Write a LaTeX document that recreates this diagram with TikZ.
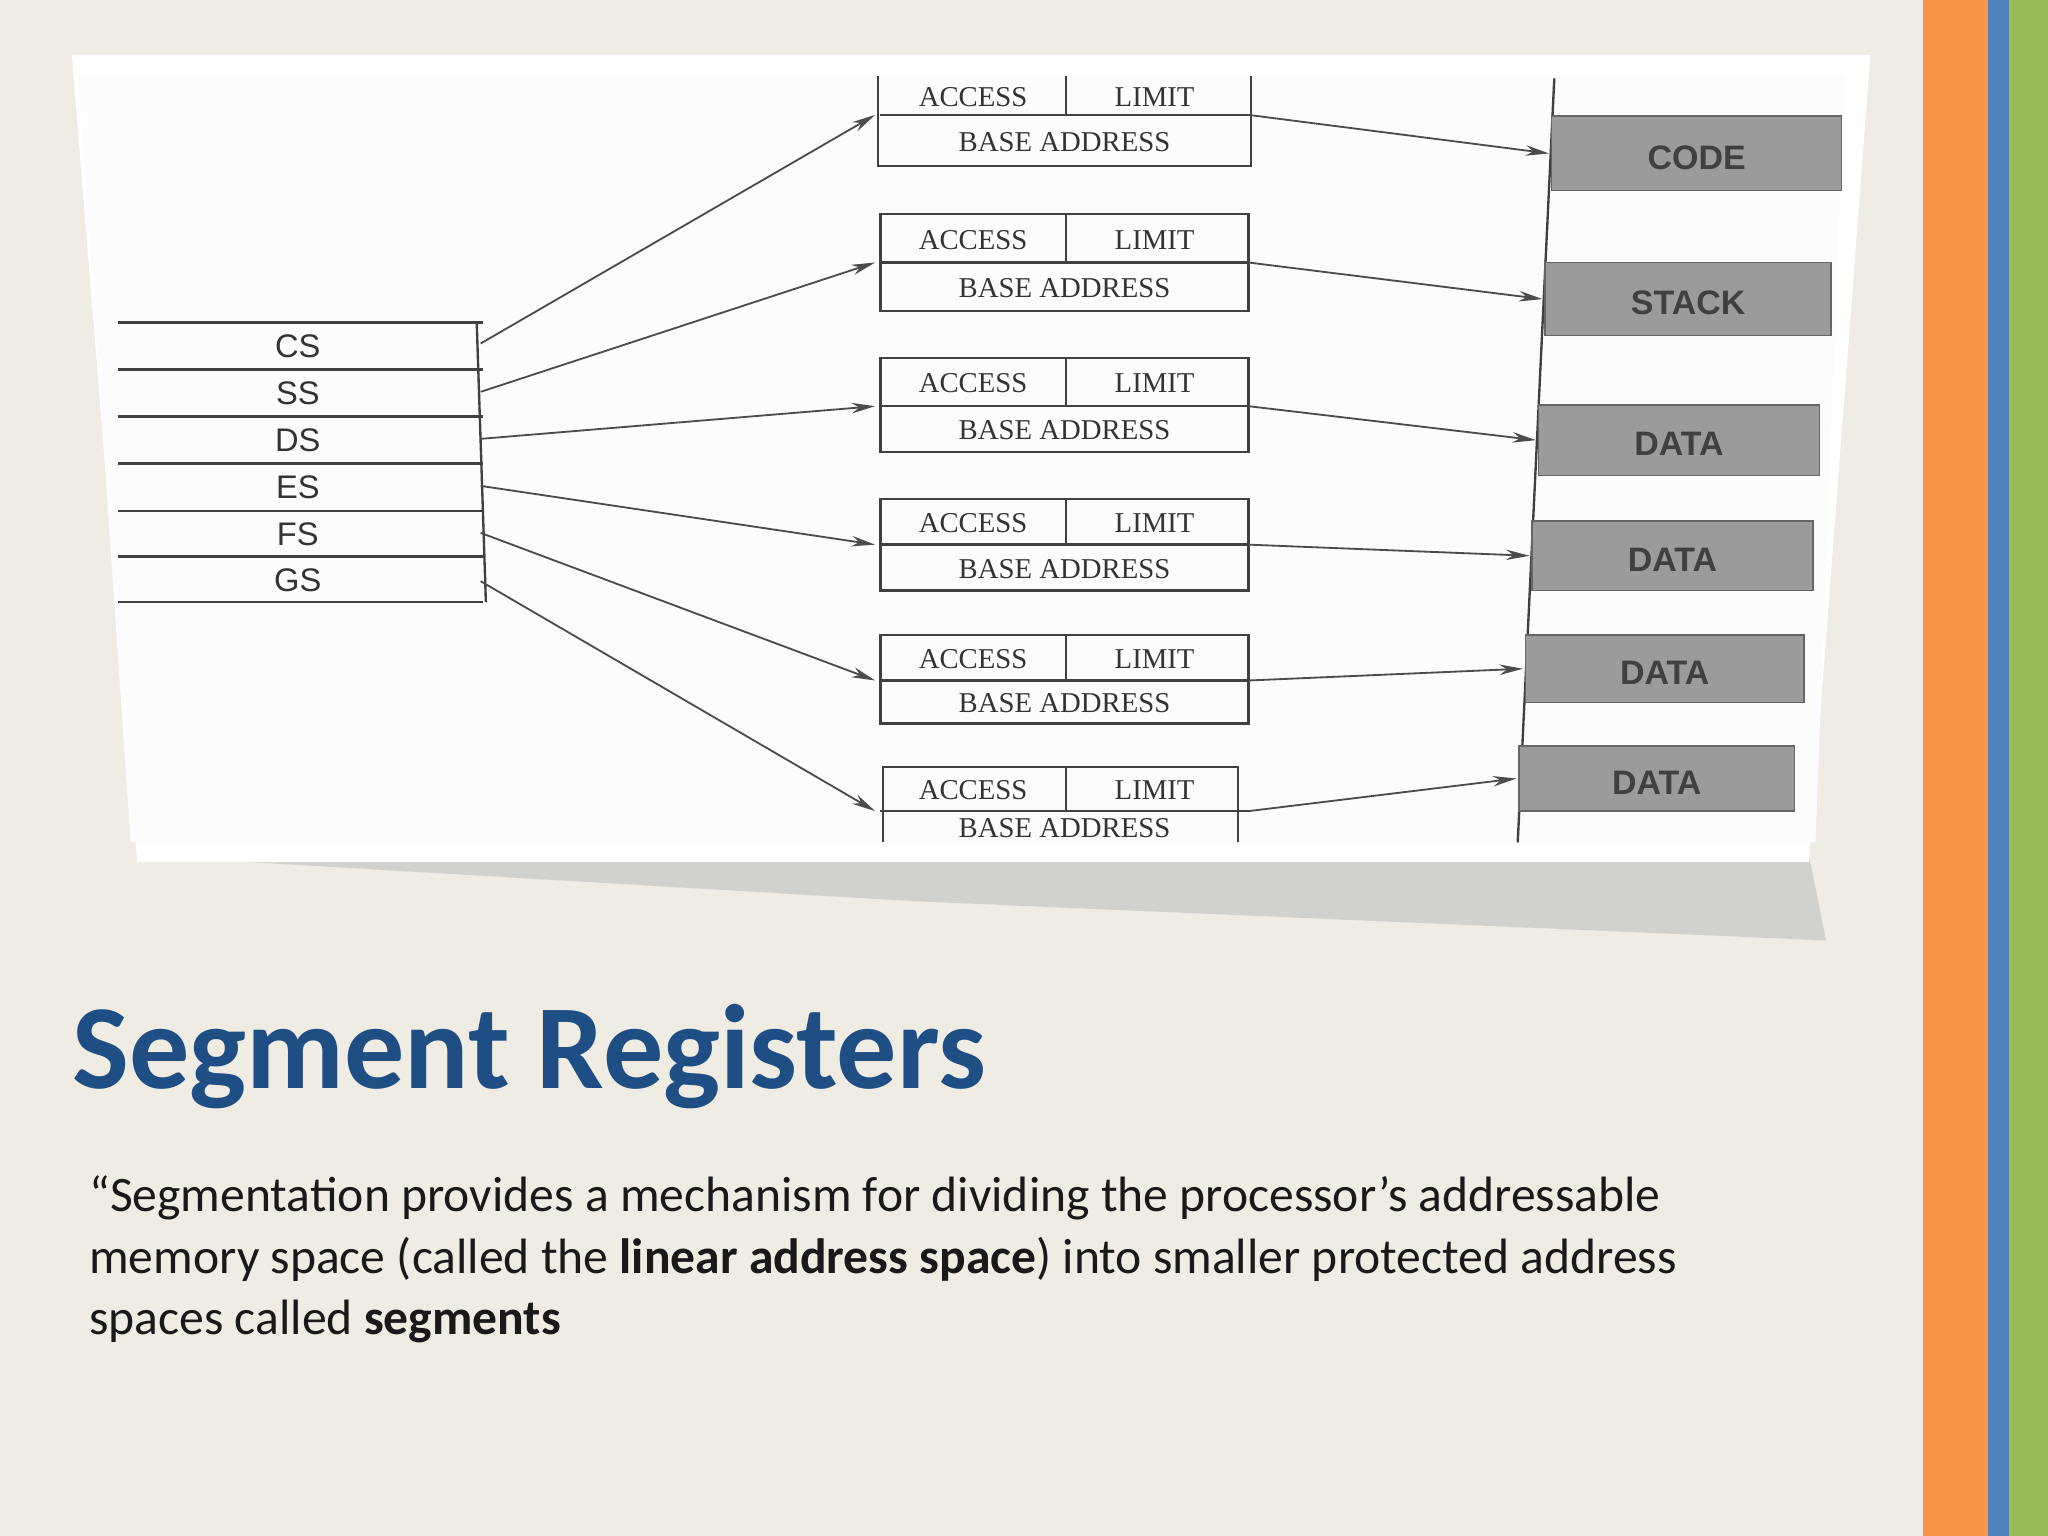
\documentclass[tikz,border=0pt]{standalone}
\usepackage{fontspec}
\setmainfont{Carlito}
\newfontfamily\dserif{Liberation Serif}
\newfontfamily\dsans{Liberation Sans}
\usetikzlibrary{arrows.meta}
\definecolor{bg}{HTML}{EEECE3}
\definecolor{ttl}{HTML}{1F4E85}
\definecolor{segg}{HTML}{9B9B9B}
\definecolor{stor}{RGB}{247,150,70}
\definecolor{stbl}{RGB}{79,129,189}
\definecolor{stgr}{RGB}{155,187,89}
\tikzset{
 ln/.style={draw=black!75, line width=0.9pt},
 arr/.style={draw=black!70, line width=0.7pt, -{Stealth[length=9pt,width=4pt]}},
 dtxt/.style={font=\dserif\fontsize{11}{12}\selectfont, text=black!80, inner sep=0},
 rtxt/.style={font=\dsans\fontsize{12.5}{13}\selectfont, text=black!80, inner sep=0},
 stxt/.style={font=\dsans\bfseries\fontsize{13}{14}\selectfont, text=black!75, inner sep=0},
 segbox/.style={fill=segg, draw=black!60, line width=0.6pt},
}
\begin{document}
\begin{tikzpicture}[x=0.5pt,y=-0.5pt]
\useasboundingbox (0,0) rectangle (1568,1176);
\fill[bg] (0,0) rectangle (1568,1176);
\fill[stor] (1472,0) rectangle (1522,1176);
\fill[stbl] (1522,0) rectangle (1538,1176);
\fill[stgr] (1538,0) rectangle (1568,1176);
% shadow
\fill[black!25, opacity=0.6] (105,655) -- (1385,655) -- (1398,720) -- (700,690) -- cycle;
\fill[white] (55,42) -- (1432,42) -- (1385,660) -- (105,660) -- cycle;
\fill[black!1] (60,58) -- (1412,58) -- (1390,645) -- (100,645) -- cycle;
% registers
\foreach \y in {247,283,319,355,391,426,461} \draw[ln] (90,\y) -- (370,\y);
\draw[ln] (365,247) -- (372,461);
\foreach \t/\y [count=\i] in {CS/265,SS/301,DS/337,ES/373,FS/409,GS/444}
  \node[rtxt] (r\i) at (228,\y) {\t};
\foreach \i/\y in {1/263,2/300,3/336,4/372,5/408,6/445} \coordinate (ro\i) at (368,\y);
% descriptors
\foreach \i/\a/\b/\c in {1/58/88/127,2/164/201/238,3/274/311/346,4/382/417/452,5/486/521/554,6/587/621/645}{
  \ifnum\i=1 \draw[ln] (672,\a) -- (672,\c) -- (958,\c) -- (958,\a);
  \else\ifnum\i=6 \draw[ln] (676,\c) -- (676,\a) -- (948,\a) -- (948,\c);
  \else \draw[ln] (674,\a) rectangle (956,\c); \fi\fi
  \draw[ln] (674,\b) -- (956,\b);
  \draw[ln] (816,\a) -- (816,\b);
  \node[dtxt] (ac\i) at (745,{(\a+\b)/2+1}) {ACCESS};
  \node[dtxt] (li\i) at (884,{(\a+\b)/2+1}) {LIMIT};
  \node[dtxt] (ba\i) at (815,{(\b+\c)/2+1}) {BASE ADDRESS};
  \coordinate (dl\i) at (670,\b);
  \coordinate (dr\i) at (956,\b);
}
% right column
\draw[ln] (1190,60) -- (1162,645);
\foreach \i/\xa/\xb/\ya/\yb/\t in {1/1188/1410/89/146/CODE,2/1183/1402/201/257/STACK,3/1178/1393/310/364/DATA,4/1173/1388/399/452/DATA,5/1168/1381/486/538/DATA,6/1163/1374/571/621/DATA}{
  \draw[segbox] (\xa,\ya) rectangle (\xb,\yb);
  \node[stxt] (s\i) at ({(\xa+\xb)/2},{(\ya+\yb)/2+3}) {\t};
  \coordinate (sl\i) at (\xa-2,{(\ya+\yb)/2});
}
\foreach \i in {1,...,6}{
  \draw[arr] (ro\i) -- (dl\i);
  \draw[arr] (dr\i) -- (sl\i);
}
% text
\node[anchor=base west, inner sep=0, text=ttl, font=\bfseries\fontsize{46}{50}\selectfont] (title) at (55,833) {Segment Registers};
\node[anchor=north west, inner sep=0, align=left, font=\fontsize{19}{23.5}\selectfont, text=black!90] (body) at (68,900)
{“Segmentation provides a mechanism for dividing the processor’s addressable\\
memory space (called the \textbf{linear address space}) into smaller protected address\\
spaces called \textbf{segments}};
\end{tikzpicture}
\end{document}
